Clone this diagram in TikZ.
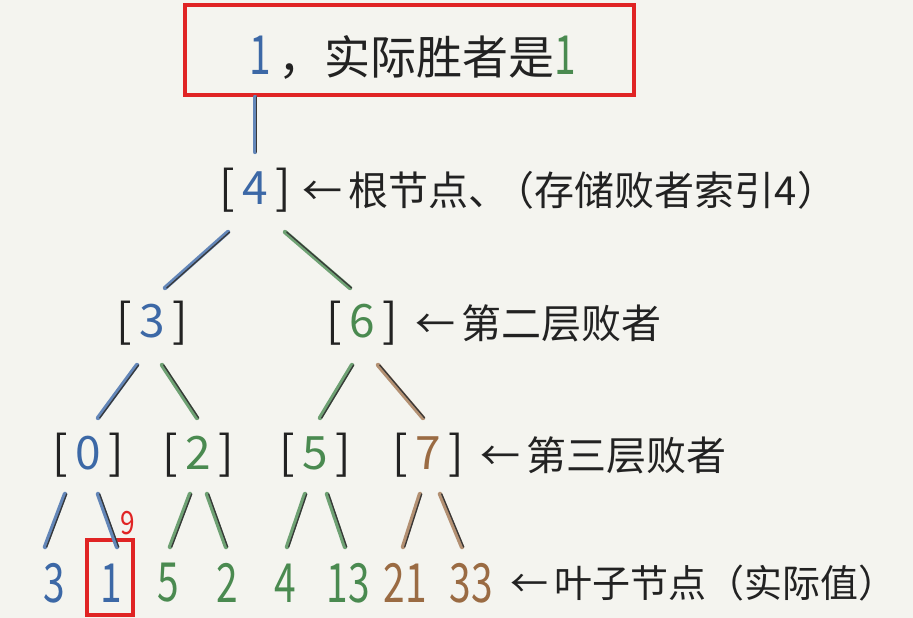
\documentclass[tikz,border=0pt]{standalone}
\usepackage{fontspec}
\usepackage{graphicx}
\setmainfont{Noto Sans CJK SC}
\usetikzlibrary{calc}
\definecolor{bg}{HTML}{F4F4EF}
\definecolor{bluec}{HTML}{3C68A6}
\definecolor{greenc}{HTML}{4A8A50}
\definecolor{brownc}{HTML}{9A6B43}
\definecolor{dark}{HTML}{222222}
\definecolor{redc}{HTML}{E02424}
\newcommand\txtsz{\fontsize{40}{44}\selectfont}
\newcommand\brsz{\fontsize{46}{50}\selectfont}
\newcommand\digsz{\fontsize{54}{58}\selectfont}
\newcommand\nar[1]{\scalebox{0.72}[1]{#1}}
\tikzset{
  lab/.style={inner sep=0pt, text=dark, font=\brsz},
  note/.style={inner sep=0pt, text=dark, font=\txtsz, anchor=west},
  leaf/.style={inner sep=0pt, font=\digsz},
  edge/.style={line width=4.4pt, line cap=round,
    postaction={draw=dark!90, line width=1.3pt, transform canvas={xshift=1.7pt}}},
  be/.style={edge, draw=bluec!80},
  ge/.style={edge, draw=greenc!80},
  ne/.style={edge, draw=brownc!75},
  redbox/.style={draw=redc, line width=4pt, inner sep=0pt}
}
\begin{document}
\begin{tikzpicture}[x=1pt,y=-1pt]
\fill[bg] (0,0) rectangle (913,618);
\useasboundingbox (0,0) rectangle (913,618);

% title
\node[redbox, minimum width=449pt, minimum height=90pt] (top) at (409.5,50) {};
\node[inner sep=0pt, text=dark, font=\fontsize{46}{52}\selectfont] (title) at (413,57)
  {{\fontsize{54}{60}\selectfont\textcolor{bluec}{\nar{1}}}\,，实际胜者是{\fontsize{54}{60}\selectfont\textcolor{greenc}{\nar{1}}}};

% internal nodes
\node[lab] (n4) at (255,190) {[\,\textcolor{bluec}{4}\,]};
\node[lab] (n3) at (152,323) {[\,\textcolor{bluec}{3}\,]};
\node[lab] (n6) at (362,323) {[\,\textcolor{greenc}{6}\,]};
\node[lab] (n0) at (88,455) {[\,\textcolor{bluec}{0}\,]};
\node[lab] (n2) at (198,455) {[\,\textcolor{greenc}{2}\,]};
\node[lab] (n5) at (315,455) {[\,\textcolor{greenc}{5}\,]};
\node[lab] (n7) at (428,455) {[\,\textcolor{brownc}{7}\,]};

% leaves
\node[leaf, text=bluec] (l1) at (54,583) {\nar{3}};
\node[leaf, text=bluec] (l2) at (111,583) {\nar{1}};
\node[leaf, text=greenc] (l3) at (168,583) {\nar{5}};
\node[leaf, text=greenc] (l4) at (227,583) {\nar{2}};
\node[leaf, text=greenc] (l5) at (285,583) {\nar{4}};
\node[leaf, text=greenc] (l6) at (348,583) {\nar{13}};
\node[leaf, text=brownc] (l7) at (405,583) {\nar{21}};
\node[leaf, text=brownc] (l8) at (471,583) {\nar{33}};

% red highlight and 9
\node[redbox, minimum width=46pt, minimum height=75pt] (hl) at ($(l2)+(-1,-6)$) {};
\node[inner sep=0pt, text=redc, font=\fontsize{32}{36}\selectfont] (nine) at (128,523) {\scalebox{0.82}[1]{9}};

% notes
\node[note] (a4) at (302,190) {←\,根节点、\kern-0.35em（存储败者索引4）};
\node[note] (a2) at (415,323) {←\,第二层败者};
\node[note] (a3) at (480,455) {←\,第三层败者};
\node[note, font=\fontsize{38}{42}\selectfont] (a1) at (510,583) {←\,叶子节点（实际值）};

% connectors
\draw[be] (top.south -| n4) -- ($(n4)+(0,-38)$);
\draw[be] ($(n4)+(-27,42)$) -- ($(n3)+(13,-35)$);
\draw[ge] ($(n4)+(30,42)$) -- ($(n6)+(-12,-35)$);
\draw[be] ($(n3)+(-15,42)$) -- ($(n0)+(10,-37)$);
\draw[ge] ($(n3)+(10,42)$) -- ($(n2)+(-1,-37)$);
\draw[ge] ($(n6)+(-10,42)$) -- ($(n5)+(5,-37)$);
\draw[ne] ($(n6)+(16,42)$) -- ($(n7)+(-5,-37)$);
\draw[be] ($(n0)+(-23,39)$) -- ($(l1)+(-9,-36)$);
\draw[be] ($(n0)+(10,39)$) -- ($(l2)+(6,-36)$);
\draw[ge] ($(n2)+(-8,39)$) -- ($(l3)+(2,-36)$);
\draw[ge] ($(n2)+(9,39)$) -- ($(l4)+(-1,-36)$);
\draw[ge] ($(n5)+(-10,39)$) -- ($(l5)+(2,-36)$);
\draw[ge] ($(n5)+(12,39)$) -- ($(l6)+(-3,-36)$);
\draw[ne] ($(n7)+(-8,39)$) -- ($(l7)+(-2,-36)$);
\draw[ne] ($(n7)+(12,39)$) -- ($(l8)+(-9,-36)$);
\end{tikzpicture}
\end{document}
